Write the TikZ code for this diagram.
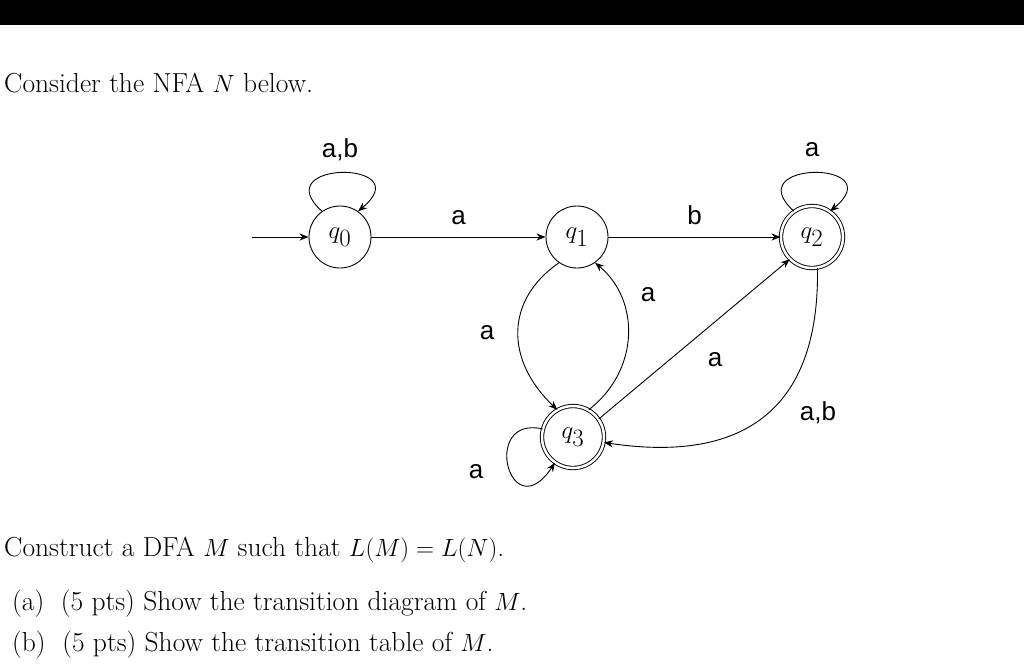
\documentclass[tikz,border=0pt]{standalone}
\usepackage{fontspec}
\newfontfamily\lab{Liberation Sans}
\usetikzlibrary{arrows.meta}
\begin{document}
\begin{tikzpicture}[x=1pt,y=-1pt,
  st/.style={circle,draw,line width=0.9pt,minimum size=62pt,inner sep=0pt,font=\fontsize{34}{36}\selectfont},
  acc/.style={st,double,double distance=2.5pt},
  lb/.style={font=\lab\fontsize{26}{28}\selectfont,inner sep=0pt},
  tx/.style={font=\fontsize{27.5}{31}\selectfont,anchor=west,inner sep=0pt},
  tr/.style={draw,line width=0.9pt,-{Stealth[length=9pt,width=7pt]}}]
\useasboundingbox (0,0) rectangle (1024,665);
\fill[black] (0,0) rectangle (1024,25);
\node[tx] (t1) at (4,83) {Consider the NFA $N$ below.};
\node[tx] (t2) at (4,550) {Construct a DFA $M$ such that $L(M)=L(N)$.};
\node[tx] (t3) at (12,604) {(a)\ \ (5 pts) Show the transition diagram of $M$.};
\node[tx] (t4) at (12,645) {(b)\ \ (5 pts) Show the transition table of $M$.};
\node[st] (q0) at (340,237) {$q_0$};
\node[st] (q1) at (577,237) {$q_1$};
\node[acc] (q2) at (812,237) {$q_2$};
\node[acc] (q3) at (573,437) {$q_3$};
\coordinate (s) at (252,237);
\path[tr] (s) -- (q0);
\path[tr] (q0) -- node[lb,above=12pt]{a} (q1);
\path[tr] (q1) -- node[lb,above=12pt]{b} (q2);
\path[tr] (q0.125) .. controls (265,160) and (420,160) .. (q0.55);
\node[lb] (l0) at (340,150) {a,b};
\path[tr] (q2.125) .. controls (737,160) and (892,160) .. (q2.55);
\node[lb] (l2) at (812,150) {a};
\path[tr] (q1.235) .. controls (505,300) and (505,360) .. (q3.120);
\node[lb] (l13) at (487,333) {a};
\path[tr] (q3.60) .. controls (640,370) and (640,300) .. (q1.305);
\node[lb] (l31) at (648,295) {a};
\path[tr] (q3.35) -- (q2.225);
\node[lb] (l32) at (715,360) {a};
\path[tr] (q2.280) .. controls (820,430) and (720,460) .. (q3.-10);
\node[lb] (l23) at (818,413) {a,b};
\path[tr] (q3.165) .. controls (480,415) and (510,530) .. (q3.235);
\node[lb] (l33) at (476,472) {a};
\end{tikzpicture}
\end{document}
